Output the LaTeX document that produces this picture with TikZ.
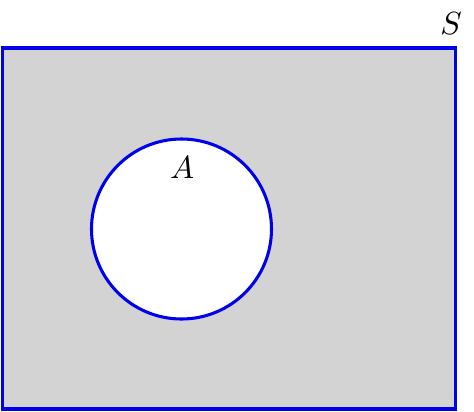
\documentclass[tikz,border=0pt]{standalone}
\usepackage{graphicx}
\usepackage{tikz}

\definecolor{setblue}{RGB}{0,0,235}
\definecolor{setgray}{RGB}{211,211,211}
\newcommand{\biglabel}[1]{\scalebox{2.4}{$#1$}}

\begin{document}
\begin{tikzpicture}[x=0.75pt,y=0.75pt,yscale=-1,xscale=1,
  setline/.style={draw=setblue, line width=2.3pt},
  setlabel/.style={inner sep=0.75pt}]
\useasboundingbox (0,0) rectangle (474,411);

%Universe rectangle
\draw [setline, fill=setgray] (2.5,48) rectangle (455.5,409);
%Circle A
\draw [setline, fill=white] (181.5,229) circle [radius=90];

% Text Node
\node [setlabel] (labS) at (451,24) {\biglabel{S}};
% Text Node
\node [setlabel] (labA) at (182,168) {\biglabel{A}};

\end{tikzpicture}
\end{document}
